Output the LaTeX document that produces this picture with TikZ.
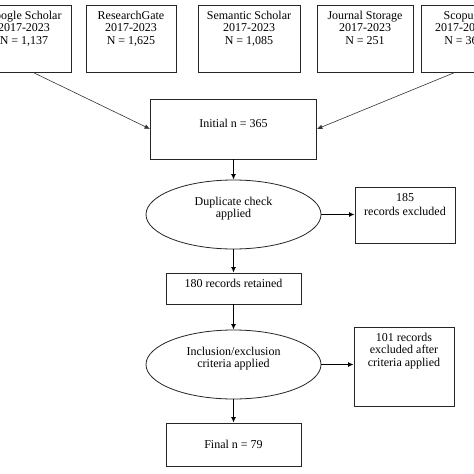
\documentclass[tikz,border=0pt]{standalone}
\usepackage{fontspec}
\setmainfont{Liberation Serif}
\usetikzlibrary{shapes.geometric,arrows.meta}
\tikzstyle{srcbox} = [draw=black!85, line width=0.8pt, rectangle, inner sep=0pt]
\tikzstyle{stepoval} = [draw=black!85, line width=0.8pt, ellipse, inner sep=0pt,
    minimum width=175pt, minimum height=69pt]
\tikzstyle{flowarrow} = [line width=1.3pt, -{Latex[length=5.5pt,width=5pt]}]
\tikzstyle{feedline} = [draw=black!80, line width=0.6pt, -{Latex[length=5.5pt,width=4.5pt]}]
\newcommand{\boxtext}[4]{%
    \begin{minipage}[c][#2][t]{#1}\centering\rule{0pt}{#3}#4\end{minipage}}

\begin{document}
\begin{tikzpicture}[x=1pt, y=-1pt, font=\fontsize{12}{12.5}\selectfont]
                \useasboundingbox (0,0) rectangle (474,474);
                \fill[white] (0,0) rectangle (474,474);
                \clip (0,0) rectangle (474,474);
                % sources
                \node [srcbox] (google) at (24,38.5) {\boxtext{94pt}{67pt}{14pt}{Google Scholar\\2017-2023\\N = 1,137}};
                \node [srcbox] (rgate) at (131,38.5) {\boxtext{90pt}{67pt}{14pt}{ResearchGate\\2017-2023\\N = 1,625}};
                \node [srcbox] (semantic) at (249,38.5) {\boxtext{102pt}{67pt}{14pt}{Semantic Scholar\\2017-2023\\N = 1,085}};
                \node [srcbox] (jstor) at (365,38.5) {\boxtext{96pt}{67pt}{14pt}{Journal Storage\\2017-2023\\N = 251}};
                \node [srcbox] (scopus) at (461,38.5) {\boxtext{80pt}{67pt}{14pt}{Scopus\\2017-2023\\N = 36}};
                % screening steps
                \node [srcbox] (initial) at (233.5,129) {\boxtext{166pt}{60pt}{28pt}{Initial n = 365}};
                \node [stepoval] (dupcheck) at (233.5,214.5) {\boxtext{118pt}{40pt}{10.5pt}{Duplicate check\\applied}};
                \node [srcbox] (excl1) at (405,215) {\boxtext{100pt}{56pt}{14pt}{185\\[2pt]records excluded}};
                \node [srcbox] (retained) at (233.5,288.5) {\boxtext{135pt}{31pt}{14.5pt}{180 records retained}};
                \node [stepoval] (criteria) at (233.5,364.5) {\boxtext{118pt}{40pt}{10.5pt}{Inclusion/exclusion\\criteria applied}};
                \node [srcbox] (excl2) at (404,366.5) {\boxtext{100pt}{79pt}{14pt}{101 records\\excluded after\\criteria applied}};
                \node [srcbox] (final) at (233.5,444.5) {\boxtext{135pt}{43pt}{25pt}{Final n = 79}};
                % connectors
                \draw [feedline] ([xshift=9pt]google.south) -- (initial.west);
                \draw [feedline] ([xshift=-6pt]scopus.south) -- (initial.east);
                \draw [flowarrow] (initial.south) -- (dupcheck.north);
                \draw [flowarrow] (dupcheck.east) -- (dupcheck.east -| excl1.west);
                \draw [flowarrow] (dupcheck.south) -- (retained.north);
                \draw [flowarrow] (retained.south) -- (criteria.north);
                \draw [flowarrow] (criteria.east) -- (criteria.east -| excl2.west);
                \draw [flowarrow] (criteria.south) -- (final.north);
            \end{tikzpicture}
\end{document}
